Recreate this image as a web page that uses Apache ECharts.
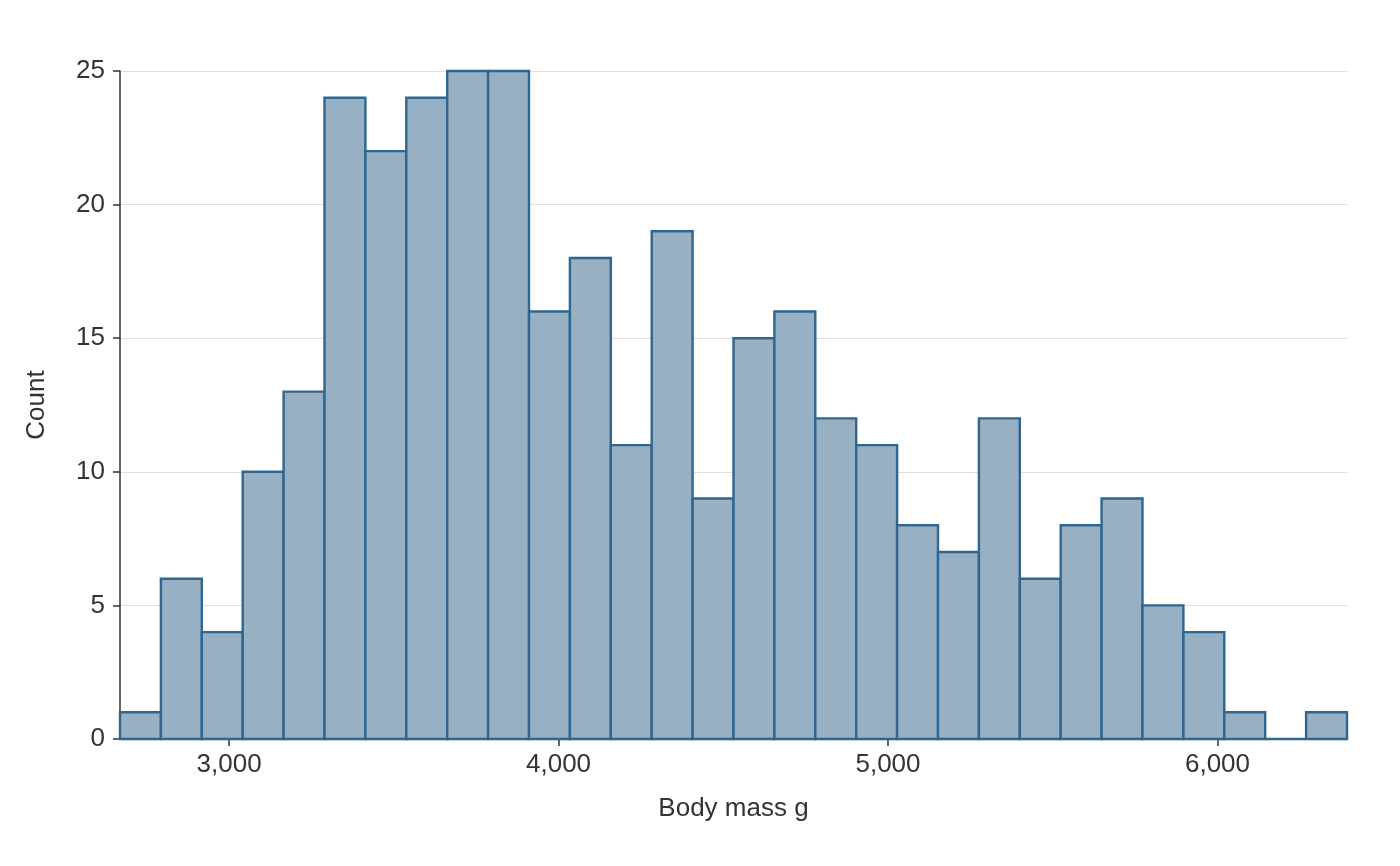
<!DOCTYPE html>
<html>
<head>
<meta charset="utf-8">
<script src="https://cdn.jsdelivr.net/npm/echarts@6/dist/echarts.min.js"></script>
<style>html,body{margin:0;padding:0;background:#fff}#c{width:1400px;height:866px}</style>
</head>
<body>
<div id="c"></div>
<script>
const binStart = 2668.97;
const binWidth = 3600 / 29;
const counts = [1, 6, 4, 10, 13, 24, 22, 24, 25, 25, 16, 18, 11, 19, 9, 15, 16, 12, 11, 8, 7, 12, 6, 8, 9, 5, 4, 1, 0, 1];
const xTicks = [3000, 4000, 5000, 6000];
const yTicks = [0, 5, 10, 15, 20, 25];
const xTitle = 'Body mass g';
const yTitle = 'Count';

const data = counts.map((c, i) => [binStart + i * binWidth, binStart + (i + 1) * binWidth, c]);
const xMax = binStart + counts.length * binWidth;
const font = 'Liberation Sans, Arial, sans-serif';

const chart = echarts.init(document.getElementById('c'), null, {renderer: 'canvas'});
chart.setOption({
  animation: false,
  backgroundColor: '#fff',
  grid: {left: 120, right: 53, top: 71, bottom: 127},
  xAxis: {
    type: 'value', min: binStart, max: xMax,
    name: xTitle, nameLocation: 'middle', nameGap: 57,
    nameTextStyle: {fontSize: 26, color: '#333', fontFamily: font},
    axisLine: {show: true, lineStyle: {color: '#555', width: 1.5}},
    axisTick: {show: true, customValues: xTicks, length: 7, lineStyle: {color: '#333', width: 1.5}},
    axisLabel: {customValues: xTicks, fontSize: 26, color: '#333', fontFamily: font, margin: 13,
      formatter: v => v.toLocaleString('en-US')},
    splitLine: {show: false}
  },
  yAxis: {
    type: 'value', min: 0, max: 25, interval: 5,
    name: yTitle, nameLocation: 'middle', nameGap: 70, nameRotate: 90,
    nameTextStyle: {fontSize: 26, color: '#333', fontFamily: font},
    axisLine: {show: true, lineStyle: {color: '#333', width: 1.5}},
    axisTick: {show: true, length: 7, lineStyle: {color: '#333', width: 1.5}},
    axisLabel: {customValues: yTicks, fontSize: 26, color: '#333', fontFamily: font, margin: 15},
    splitLine: {show: true, lineStyle: {color: '#dedede', width: 1}}
  },
  series: [{
    type: 'custom',
    data: data,
    encode: {x: [0, 1], y: 2},
    renderItem: function (params, api) {
      const p0 = api.coord([api.value(0), 0]);
      const p1 = api.coord([api.value(1), api.value(2)]);
      return {
        type: 'rect',
        shape: {x: p0[0], y: p1[1], width: p1[0] - p0[0], height: p0[1] - p1[1]},
        style: {fill: '#98b0c4', stroke: '#2f6690', lineWidth: 2.4}
      };
    }
  }]
});
</script>
</body>
</html>
